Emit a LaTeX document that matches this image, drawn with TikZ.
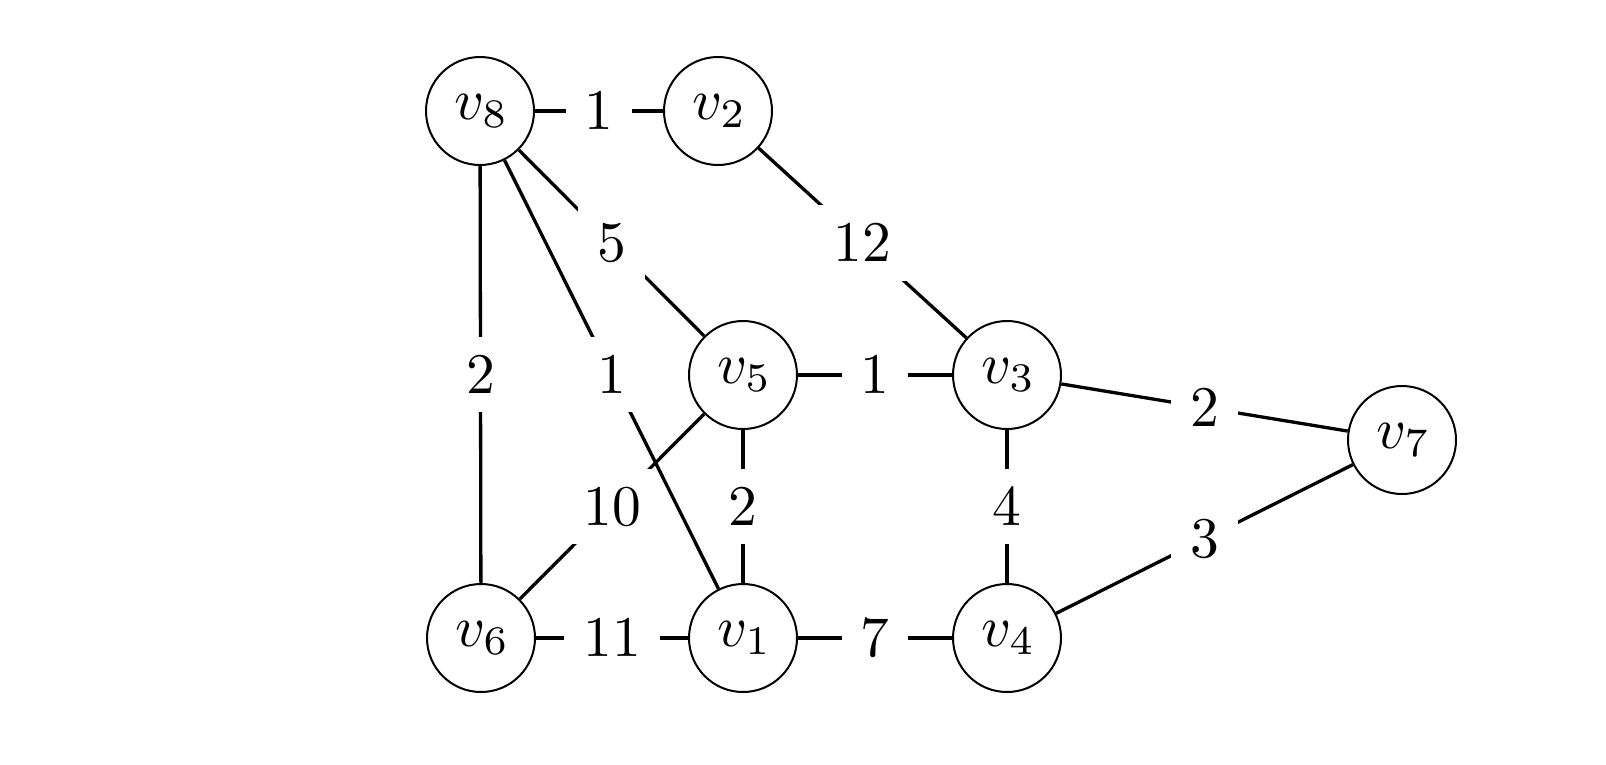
\documentclass[tikz,border=0pt]{standalone}
\font\wtf=cmr10 at 57.5pt
\font\vif=cmmi10 at 58pt
\font\subf=cmr7 at 40.6pt
\newcommand\vlab[1]{{\vif v}\lower8.7pt\hbox{\subf #1}}
\begin{document}
\begin{tikzpicture}[x=1pt,y=-1pt,
  vtx/.style={circle,draw,line width=2pt,minimum size=108pt,inner sep=0pt},
  edge/.style={line width=3.3pt},
  wt/.style={fill=white,inner sep=19pt,font=\wtf}]
\useasboundingbox (0,0) rectangle (1606,764);
\node[vtx] (v8) at (480,111) {\vlab{8}};
\node[vtx] (v2) at (718,111) {\vlab{2}};
\node[vtx] (v5) at (743,375) {\vlab{5}};
\node[vtx] (v3) at (1007,375) {\vlab{3}};
\node[vtx] (v7) at (1402,440) {\vlab{7}};
\node[vtx] (v6) at (481,638) {\vlab{6}};
\node[vtx] (v1) at (743,638) {\vlab{1}};
\node[vtx] (v4) at (1007,638) {\vlab{4}};
\draw[edge] (v8) -- node[wt]{1} (v2);
\draw[edge] (v8) -- node[wt]{5} (v5);
\draw[edge] (v2) -- node[wt]{12} (v3);
\draw[edge] (v8) -- node[wt]{2} (v6);
\draw[edge] (v5) -- node[wt]{10} (v6);
\draw[edge] (v8) -- node[wt]{1} (v1);
\draw[edge] (v5) -- node[wt]{1} (v3);
\draw[edge] (v3) -- node[wt]{2} (v7);
\draw[edge] (v5) -- node[wt]{2} (v1);
\draw[edge] (v3) -- node[wt]{4} (v4);
\draw[edge] (v4) -- node[wt]{3} (v7);
\draw[edge] (v6) -- node[wt]{11} (v1);
\draw[edge] (v1) -- node[wt]{7} (v4);
\end{tikzpicture}
\end{document}
